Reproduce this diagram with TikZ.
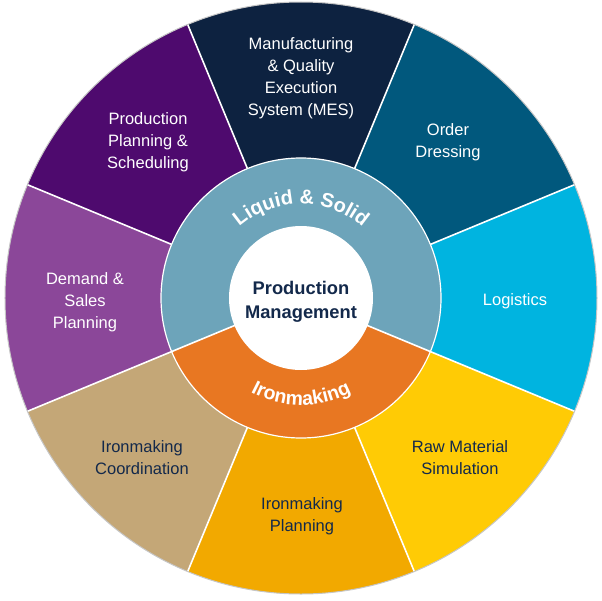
\documentclass[tikz,border=0pt]{standalone}
\usepackage{fontspec}
\setmainfont{Liberation Sans}
\usetikzlibrary{decorations.text}
\definecolor{cmes}{HTML}{0D2240}
\definecolor{cord}{HTML}{01587D}
\definecolor{clog}{HTML}{00B4E0}
\definecolor{craw}{HTML}{FFCB05}
\definecolor{cplan}{HTML}{F2A900}
\definecolor{ccoord}{HTML}{C4A777}
\definecolor{cdem}{HTML}{8B4799}
\definecolor{cpps}{HTML}{4E0A6E}
\definecolor{cls}{HTML}{6DA4BA}
\definecolor{ciron}{HTML}{E87722}
\definecolor{navy}{HTML}{13294B}
\begin{document}
\begin{tikzpicture}[x=1pt,y=1pt,
  seglabel/.style={align=center, font=\fontsize{16.5}{22}\selectfont, inner sep=0pt},
  sepline/.style={white, line width=1.6pt}]
\useasboundingbox (-301,-302) rectangle (301,298);
\def\R{296}
\foreach \a/\c in {0/clog,45/cord,90/cmes,135/cpps,180/cdem,225/ccoord,270/cplan,315/craw}{
  \fill[\c] (0,0) -- (\a-22.5:\R) arc[start angle=\a-22.5, end angle=\a+22.5, radius=\R] -- cycle;
}
\foreach \a in {22.5,67.5,...,337.5} \draw[sepline] (0,0) -- (\a:\R);
\draw[gray!45, line width=1pt] (0,0) circle (\R);
% middle ring
\fill[cls] (0,0) -- (-22.5:140) arc[start angle=-22.5, end angle=202.5, radius=140] -- cycle;
\fill[ciron] (0,0) -- (202.5:140) arc[start angle=202.5, end angle=337.5, radius=140] -- cycle;
\draw[white, line width=1.2pt] (0,0) circle (140);
\draw[sepline] (0,0) -- (202.5:140);
\draw[sepline] (0,0) -- (337.5:140);
\fill[white] (0,0) circle (72);
% ring labels
\path[decorate, decoration={text along path, text align=center, text color=white,
  text={|\bfseries\fontsize{20}{22}\selectfont|Liquid {\&} Solid}}]
  (155:94) arc[start angle=155, end angle=25, radius=94];
\path[decorate, decoration={text along path, text align=center, text color=white,
  text={|\bfseries\fontsize{19.5}{22}\selectfont|Ironmaking}}]
  (210:107) arc[start angle=210, end angle=330, radius=107];
% center
\node[align=center, text=navy, font=\bfseries\fontsize{18.3}{24}\selectfont] (pm) at (0,-4) {Production\\Management};
% segment labels
\node[seglabel, text=white] (mes) at (0,220) {Manufacturing\\\& Quality\\Execution\\System (MES)};
\node[seglabel, text=white] (ord) at (147,156) {Order\\Dressing};
\node[seglabel, text=white] (log) at (214,-3) {Logistics};
\node[seglabel, text=navy] (raw) at (159,-160) {Raw Material\\Simulation};
\node[seglabel, text=navy] (ipl) at (1,-218) {Ironmaking\\Planning};
\node[seglabel, text=navy] (ico) at (-159,-160) {Ironmaking\\Coordination};
\node[seglabel, text=white] (dem) at (-216,-4) {Demand \&\\Sales\\Planning};
\node[seglabel, text=white] (pps) at (-153,156) {Production\\Planning \&\\Scheduling};
\end{tikzpicture}
\end{document}
